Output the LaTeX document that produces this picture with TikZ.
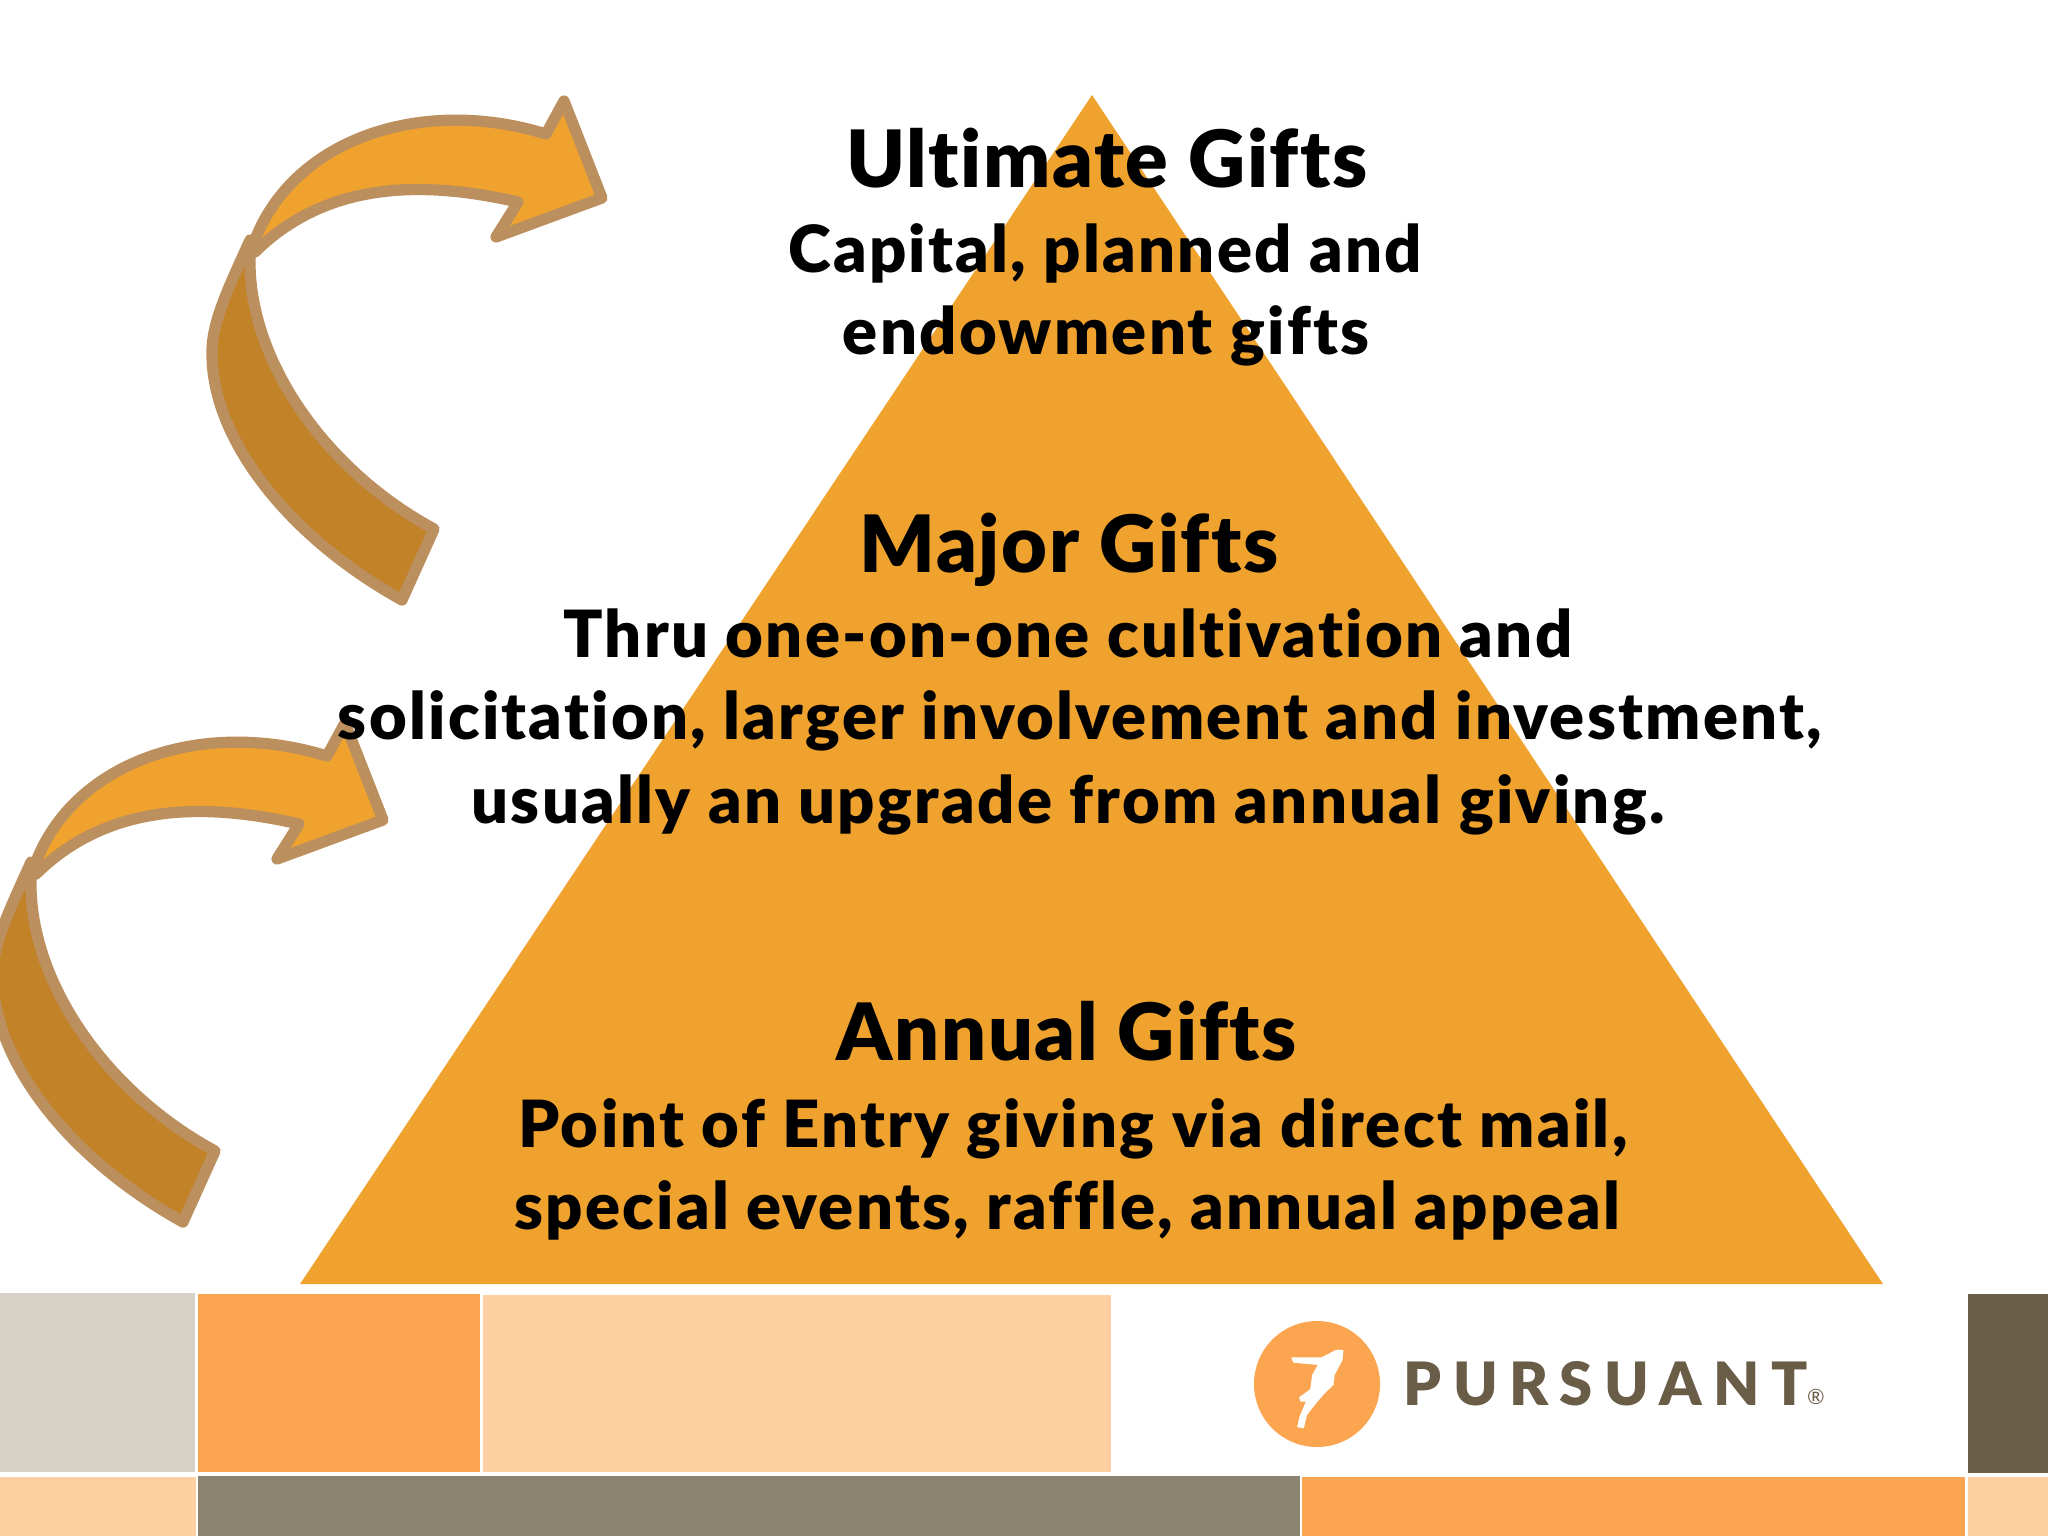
\documentclass[tikz,border=0pt]{standalone}
\usepackage{fontspec}
\setmainfont[BoldFont={Lato Black}, RawFeature={-liga}, LetterSpace=2]{Lato}
\newfontfamily\logofont[LetterSpace=19]{Lato Black}
\usetikzlibrary{positioning}
\definecolor{pyramidcol}{HTML}{F0A22E}
\definecolor{shadecol}{HTML}{C28228}
\definecolor{rimcol}{HTML}{BC8F5E}
\definecolor{stonecol}{HTML}{D8D2C6}
\definecolor{peachcol}{HTML}{FBA550}
\definecolor{palecol}{HTML}{FDCFA1}
\definecolor{darkcol}{HTML}{6A5D48}
\definecolor{taupecol}{HTML}{8C8270}
\tikzset{
  title/.style={anchor=base, inner sep=0pt, font=\fontsize{22.5}{22.5}\selectfont\bfseries},
  body/.style={anchor=base, inner sep=0pt, font=\fontsize{18.5}{18.5}\selectfont\bfseries\addfontfeatures{LetterSpace=3.5}},
  rim/.style={draw=rimcol, line width=3.2pt, line join=round},
}
\newcommand{\giftarrow}[2]{
  \begin{scope}[shift={(#1,#2)}]
    \draw[rim, fill=shadecol] (434,529) .. controls (325,470) and (248,360) .. (250,258)
      -- (250,240) .. controls (230,285) and (212,320) .. (212,352)
      .. controls (211,440) and (290,538) .. (402,600) -- cycle;
    \draw[rim, fill=pyramidcol] (252,248) .. controls (288,140) and (420,95) .. (546,134)
      -- (564,101) -- (602,198) -- (496,237) -- (518,202)
      .. controls (430,182) and (330,178) .. (255,252) -- cycle;
  \end{scope}
}
\begin{document}
\begin{tikzpicture}[x=0.01cm, y=-0.01cm]
  \useasboundingbox (0,0) rectangle (2048,1536);
  \clip (0,0) rectangle (2048,1536);

  % pyramid
  \fill[pyramidcol] (1092,95) -- (1883,1284) -- (300,1284) -- cycle;

  % arrows
  \giftarrow{0}{0}
  \giftarrow{-219}{622}

  % bands
  \fill[stonecol] (0,1293) rectangle (195,1472);
  \fill[peachcol] (198,1294) rectangle (480,1472);
  \fill[palecol] (483,1295) rectangle (1111,1472);
  \fill[darkcol] (1968,1294) rectangle (2048,1473);
  \fill[palecol] (0,1477) rectangle (196,1536);
  \fill[taupecol] (198,1476) rectangle (1300,1536);
  \fill[peachcol] (1302,1477) rectangle (1965,1536);
  \fill[palecol] (1968,1477) rectangle (2048,1536);

  % logo
  \fill[peachcol] (1317,1384) circle (63);
  \begin{scope}[shift={(1230,1300)}, xscale=0.395, yscale=0.333]
    \fill[white] (155,172) -- (232,172) -- (268,150) -- (287,150) -- (285,180) -- (265,225)
      -- (262,255) -- (240,280) -- (218,310) -- (195,345) -- (187,385) -- (170,382)
      -- (176,350) -- (192,305) -- (178,305) -- (175,292) -- (203,268) -- (208,225)
      -- (222,195) -- (160,188) -- cycle;
  \end{scope}
  \node[anchor=base west, inner sep=0pt, text=darkcol, font=\fontsize{17}{17}\selectfont\logofont] (logotext) at (1403,1405) {PURSUANT};
  \node[anchor=center, inner sep=0pt, text=darkcol, font=\fontsize{6}{6}\selectfont] (logomark) at (1816,1397) {®};

  % top tier
  \node[title] (ultimate) at (1107,187) {Ultimate Gifts};
  \node[body] (ultimateA) at (1105,272) {Capital, planned and};
  \node[body] (ultimateB) at (1106,354) {endowment gifts};

  % middle tier
  \node[title] (major) at (1069,572) {Major Gifts};
  \node[body] (majorA) at (1068,657) {Thru one-on-one cultivation and};
  \node[body] (majorB) at (1080,739) {solicitation, larger involvement and investment,};
  \node[body] (majorC) at (1068,823) {usually an upgrade from annual giving.};

  % bottom tier
  \node[title] (annual) at (1067,1060) {Annual Gifts};
  \node[body] (annualA) at (1073,1147) {Point of Entry giving via direct mail,};
  \node[body] (annualB) at (1067,1229) {special events, raffle, annual appeal};
\end{tikzpicture}
\end{document}
